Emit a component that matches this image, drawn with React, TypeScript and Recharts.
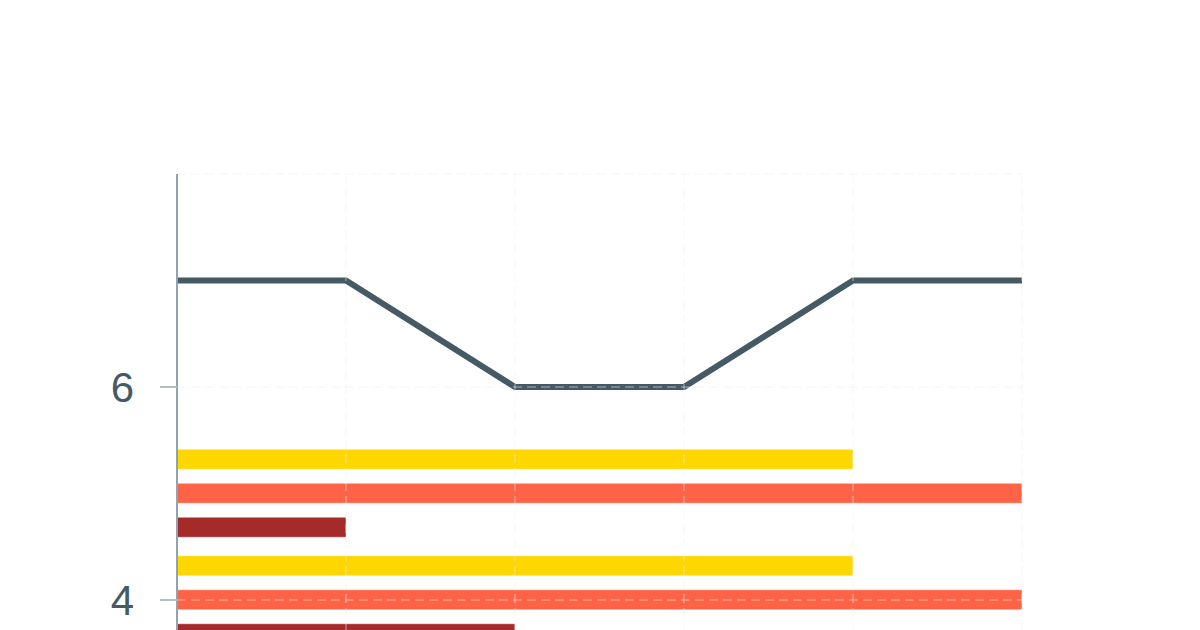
import React from "react";
import {
  Bar,
  CartesianGrid,
  ComposedChart,
  Line,
  XAxis,
  YAxis,
} from "recharts";

// line series (x position, y level)
const lineX = [0, 1, 2, 3, 4, 5];
const lineY = [7, 7, 6, 6, 7, 7];

// bar groups, one row per y level
const groupY = [5, 4];
const goldValues = [4, 4];
const tomatoValues = [5, 5];
const brownValues = [1, 2];

const xTicks = [0, 1, 2, 3, 4, 5];
const yTicks = [4, 6];

const chartData = [
  ...lineX.map((x, i) => ({ y: lineY[i], lx: x })),
  ...groupY.map((y, i) => ({
    y,
    gold: goldValues[i],
    tomato: tomatoValues[i],
    brown: brownValues[i],
  })),
];

const barEdge = "rgba(255,255,255,0.45)";

export default function App() {
  return (
    <div style={{ width: 1200, height: 1026 }}>
      <style>{"body{margin:0;}"}</style>
      <ComposedChart
        width={1200}
        height={1026}
        data={chartData}
        layout="vertical"
        margin={{ top: 174, right: 178, bottom: 0, left: 77 }}
        barGap={14}
      >
        <XAxis type="number" domain={[0, 5]} ticks={xTicks} hide />
        <YAxis
          type="number"
          dataKey="y"
          domain={[0, 8]}
          ticks={yTicks}
          reversed
          width={100}
          stroke="#90a4ae"
          strokeWidth={2}
          tickSize={17}
          tickMargin={26}
          tickLine={{ stroke: "#b0bec5", strokeWidth: 2 }}
          tick={{ fill: "#455a64", fontSize: 42, fontFamily: "Liberation Sans, Arial, sans-serif" }}
        />
        <Bar dataKey="gold" fill="#ffd700" barSize={20} stroke={barEdge} strokeWidth={1} isAnimationActive={false} />
        <Bar dataKey="tomato" fill="#ff6347" barSize={20} stroke={barEdge} strokeWidth={1} isAnimationActive={false} />
        <Bar dataKey="brown" fill="#a52a2a" barSize={20} stroke={barEdge} strokeWidth={1} isAnimationActive={false} />
        <Line
          dataKey="lx"
          type="linear"
          stroke="#455a64"
          strokeWidth={6}
          dot={false}
          activeDot={false}
          isAnimationActive={false}
        />
        <CartesianGrid
          stroke="#eceff1"
          strokeOpacity={0.6}
          strokeDasharray="9 5"
          zIndex={450}
        />
      </ComposedChart>
    </div>
  );
}
